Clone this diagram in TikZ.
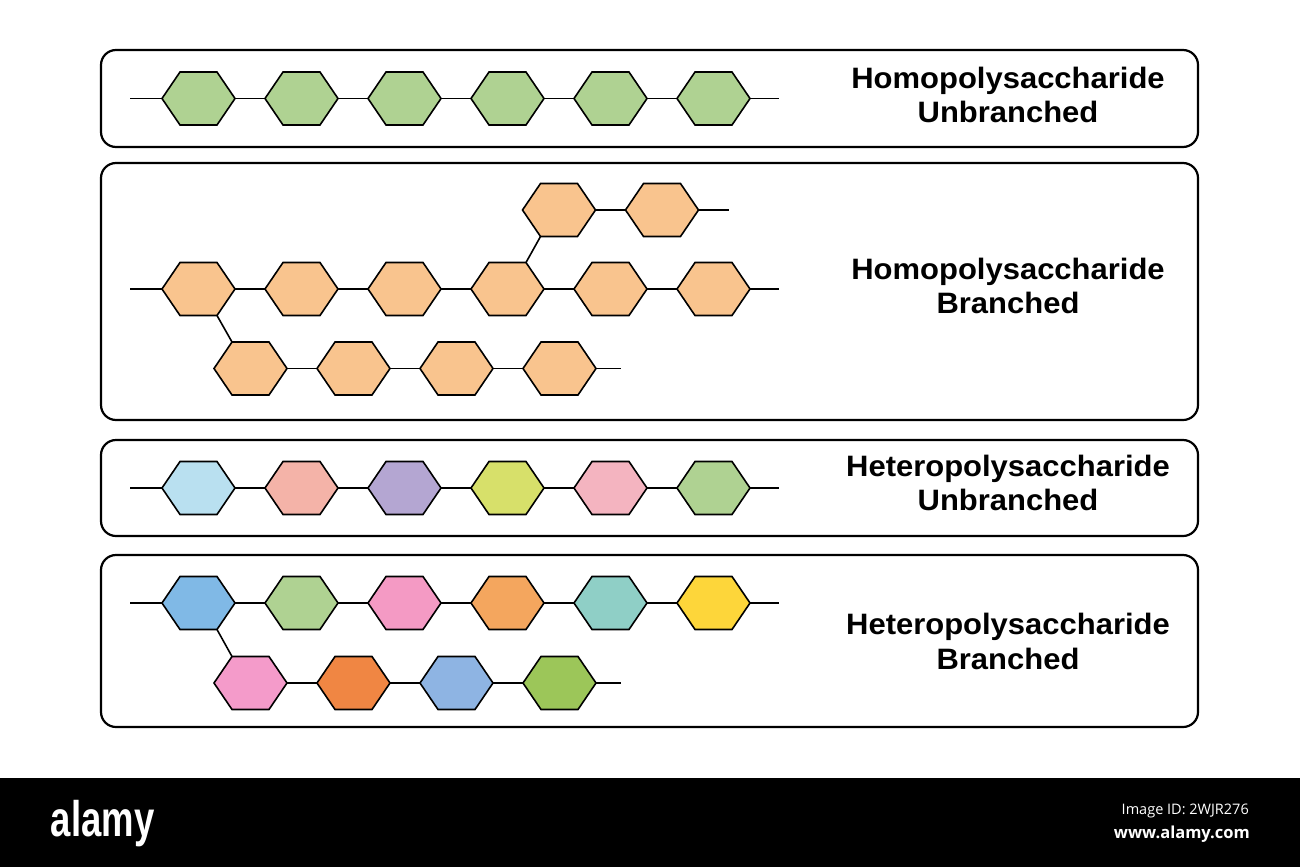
\documentclass[tikz,border=0pt]{standalone}
\usepackage{fontspec}
\setmainfont{Liberation Sans}
\newfontfamily\labfont{Liberation Sans}[FakeStretch=1.05]
\newfontfamily\alamyfont{Liberation Sans}[FakeStretch=0.73]
\newfontfamily\wmfont{Open Sans}

\definecolor{cgreen}{HTML}{AFD292}
\definecolor{corange}{HTML}{F9C48E}
\definecolor{clightblue}{HTML}{B9E0F0}
\definecolor{csalmon}{HTML}{F4B3A8}
\definecolor{clavender}{HTML}{B4A6D2}
\definecolor{cyellowgreen}{HTML}{D7E06A}
\definecolor{cpinklight}{HTML}{F4B4C0}
\definecolor{cblue}{HTML}{80B9E6}
\definecolor{cpink}{HTML}{F49AC4}
\definecolor{corangemid}{HTML}{F4A65E}
\definecolor{cteal}{HTML}{8FCFC6}
\definecolor{cyellow}{HTML}{FDD63A}
\definecolor{cpinkb}{HTML}{F49BCA}
\definecolor{corangedark}{HTML}{F08643}
\definecolor{cblueb}{HTML}{8EB4E3}
\definecolor{cgreenb}{HTML}{9CC659}

\tikzset{
  panel/.style={draw=black, line width=2.2pt, rounded corners=15pt, inner sep=0pt, minimum width=1097pt},
  hexbox/.style={inner sep=0pt, outer sep=0pt, minimum width=73pt, minimum height=53pt},
  hexline/.style={draw=black, line width=1.6pt, line join=miter},
  link/.style={draw=black, line width=1.6pt},
  lab/.style={align=center, inner sep=0pt, font=\labfont\bfseries\fontsize{29.5}{34.2}\selectfont},
}

\newcommand\hexunit[4]{%
  \node[hexbox] (#1) at ({#2},{#3}) {};
  \draw[hexline, fill=#4] (#1.west) -- ([xshift=-18.5pt]#1.north) -- ([xshift=18.5pt]#1.north)
     -- (#1.east) -- ([xshift=18.5pt]#1.south) -- ([xshift=-18.5pt]#1.south) -- cycle;
}

\begin{document}
\begin{tikzpicture}[x=1pt, y=-1pt]
\useasboundingbox (0,0) rectangle (1300,867);
\fill[white] (0,0) rectangle (1300,778);

% panels
\node[panel, minimum height=97pt] (p1) at (649.5,98.5) {};
\node[panel, minimum height=257pt] (p2) at (649.5,291.5) {};
\node[panel, minimum height=96pt] (p3) at (649.5,488) {};
\node[panel, minimum height=172pt] (p4) at (649.5,641) {};

% ---- Box 1: homopolysaccharide unbranched
\foreach \c [count=\i] in {cgreen,cgreen,cgreen,cgreen,cgreen,cgreen}
  {\hexunit{a\i}{198.5+103*(\i-1)}{98.5}{\c}}
\coordinate (a0) at (130,98.5);
\coordinate (a7) at (779,98.5);
\draw[link] (a0) -- (a1.west);
\foreach \i [evaluate=\i as \j using int(\i+1)] in {1,...,5}
  {\draw[link] (a\i.east) -- (a\j.west);}
\draw[link] (a6.east) -- (a7);

% ---- Box 2: homopolysaccharide branched
\foreach \i in {1,...,6}
  {\hexunit{b\i}{198.5+103*(\i-1)}{289}{corange}}
\foreach \i in {1,2}
  {\hexunit{u\i}{559+103*(\i-1)}{210}{corange}}
\foreach \i in {1,...,4}
  {\hexunit{d\i}{250.5+103*(\i-1)}{368.5}{corange}}
\coordinate (b0) at (130,289);
\coordinate (b7) at (779,289);
\coordinate (u3) at (729,210);
\coordinate (d5) at (621,368.5);
\draw[link] (b0) -- (b1.west);
\foreach \i [evaluate=\i as \j using int(\i+1)] in {1,...,5}
  {\draw[link] (b\i.east) -- (b\j.west);}
\draw[link] (b6.east) -- (b7);
\draw[link] (u1.east) -- (u2.west);
\draw[link] (u2.east) -- (u3);
\foreach \i [evaluate=\i as \j using int(\i+1)] in {1,...,3}
  {\draw[link] (d\i.east) -- (d\j.west);}
\draw[link] (d4.east) -- (d5);
\draw[link] ([xshift=18.5pt]b1.south) -- ([xshift=-18.5pt]d1.north);
\draw[link] ([xshift=18.5pt]b4.north) -- ([xshift=-18.5pt]u1.south);

% ---- Box 3: heteropolysaccharide unbranched
\foreach \c [count=\i] in {clightblue,csalmon,clavender,cyellowgreen,cpinklight,cgreen}
  {\hexunit{c\i}{198.5+103*(\i-1)}{488}{\c}}
\coordinate (c0) at (130,488);
\coordinate (c7) at (779,488);
\draw[link] (c0) -- (c1.west);
\foreach \i [evaluate=\i as \j using int(\i+1)] in {1,...,5}
  {\draw[link] (c\i.east) -- (c\j.west);}
\draw[link] (c6.east) -- (c7);

% ---- Box 4: heteropolysaccharide branched
\foreach \c [count=\i] in {cblue,cgreen,cpink,corangemid,cteal,cyellow}
  {\hexunit{e\i}{198.5+103*(\i-1)}{603}{\c}}
\foreach \c [count=\i] in {cpinkb,corangedark,cblueb,cgreenb}
  {\hexunit{f\i}{250.5+103*(\i-1)}{683}{\c}}
\coordinate (e0) at (130,603);
\coordinate (e7) at (779,603);
\coordinate (f5) at (621,683);
\draw[link] (e0) -- (e1.west);
\foreach \i [evaluate=\i as \j using int(\i+1)] in {1,...,5}
  {\draw[link] (e\i.east) -- (e\j.west);}
\draw[link] (e6.east) -- (e7);
\foreach \i [evaluate=\i as \j using int(\i+1)] in {1,...,3}
  {\draw[link] (f\i.east) -- (f\j.west);}
\draw[link] (f4.east) -- (f5);
\draw[link] ([xshift=18.5pt]e1.south) -- ([xshift=-18.5pt]f1.north);

% labels
\node[lab] (t1) at (1008,95) {Homopolysaccharide\\Unbranched};
\node[lab] (t2) at (1008,286) {Homopolysaccharide\\Branched};
\node[lab] (t3) at (1008,483) {Heteropolysaccharide\\Unbranched};
\node[lab] (t4) at (1008,641.5) {Heteropolysaccharide\\Branched};

% bottom band
\fill[black] (0,778) rectangle (1300,867);
\node[anchor=base west, inner sep=0pt, text=white, font=\alamyfont\bfseries\fontsize{50}{52}\selectfont] (w1) at (50.7,836) {alamy};
\node[anchor=base east, inner sep=0pt, text=white, font=\wmfont\fontsize{14.5}{16}\selectfont] (w2) at (1249,814) {Image ID: 2WJR276};
\node[anchor=base east, inner sep=0pt, text=white, font=\wmfont\bfseries\fontsize{16.5}{18}\selectfont] (w3) at (1250,838) {www.alamy.com};
\end{tikzpicture}
\end{document}
